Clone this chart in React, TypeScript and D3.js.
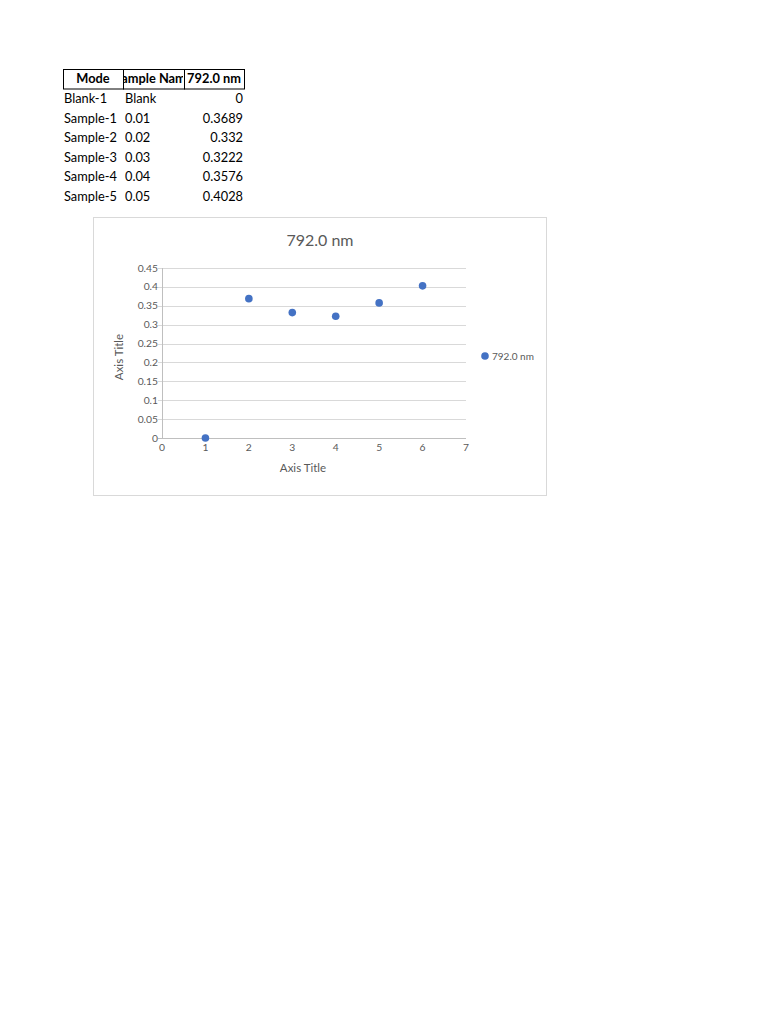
import * as d3 from "d3";

// spreadsheet table
const headers = ["Mode", "Sample Name", "792.0 nm"];
const modes = ["Blank-1", "Sample-1", "Sample-2", "Sample-3", "Sample-4", "Sample-5"];
const sampleNames = ["Blank", "0.01", "0.02", "0.03", "0.04", "0.05"];
const absorbance = [0, 0.3689, 0.332, 0.3222, 0.3576, 0.4028];
const absorbanceLabels = ["0", "0.3689", "0.332", "0.3222", "0.3576", "0.4028"];

// chart
const seriesName = "792.0 nm";
const xTicks = [0, 1, 2, 3, 4, 5, 6, 7];
const yTicks = [0, 0.05, 0.1, 0.15, 0.2, 0.25, 0.3, 0.35, 0.4, 0.45];

const FONT = "Lato, 'Open Sans', sans-serif";
const BLUE = "#4472c4";
const GRID = "#d9d9d9";
const LABEL = "#595959";

const colEdges = [63, 123, 184, 244];

export default function App() {
  const x = d3.scaleLinear().domain([0, 7]).range([162, 466]);
  const y = d3.scaleLinear().domain([0, 0.45]).range([438, 268]);
  const rowY = d3.scaleLinear().domain([0, 1]).range([103, 122.5]);
  const points = absorbance.map((v, i) => ({ x: i + 1, y: v }));

  return (
    <svg
      width={768}
      height={1024}
      style={{ position: "absolute", left: 0, top: 0, background: "#fff" }}
      fontFamily={FONT}
    >
      <defs>
        {headers.map((_, i) => (
          <clipPath id={`hc${i}`} key={i}>
            <rect x={colEdges[i] + 1} y={69} width={colEdges[i + 1] - colEdges[i] - 2} height={20} />
          </clipPath>
        ))}
      </defs>

      {/* table header */}
      {headers.map((h, i) => (
        <g key={h}>
          <rect
            x={colEdges[i] + 0.5}
            y={69.5}
            width={colEdges[i + 1] - colEdges[i]}
            height={19.5}
            fill="none"
            stroke="#000"
            strokeWidth={1}
          />
          <text
            x={(colEdges[i] + colEdges[i + 1]) / 2}
            y={83}
            textAnchor="middle"
            fontSize={12.8}
            fontWeight="bold"
            fill="#000"
            clipPath={`url(#hc${i})`}
          >
            {h}
          </text>
        </g>
      ))}

      {/* table rows */}
      {modes.map((m, i) => (
        <g key={m} fontSize={12.8} fill="#000">
          <text x={64} y={rowY(i)}>{m}</text>
          <text x={125} y={rowY(i)}>{sampleNames[i]}</text>
          <text x={243} y={rowY(i)} textAnchor="end">{absorbanceLabels[i]}</text>
        </g>
      ))}

      {/* chart area */}
      <rect x={93.5} y={217.5} width={453} height={278} fill="#fff" stroke={GRID} />
      <text x={320} y={246} textAnchor="middle" fontSize={16} fill={LABEL}>
        {seriesName}
      </text>

      {/* gridlines */}
      {yTicks.map((t) => (
        <g key={t}>
          <line
            x1={x(0) - 4}
            x2={x(7)}
            y1={Math.round(y(t)) + 0.5}
            y2={Math.round(y(t)) + 0.5}
            stroke={t === 0 ? "#bfbfbf" : GRID}
          />
          <text x={158} y={y(t) + 3.5} textAnchor="end" fontSize={10.3} fill={LABEL}>
            {t}
          </text>
        </g>
      ))}
      <line x1={x(0) + 0.5} x2={x(0) + 0.5} y1={y(0.45)} y2={y(0)} stroke="#bfbfbf" />
      {xTicks.map((t) => (
        <g key={t}>
          <text x={x(t)} y={451} textAnchor="middle" fontSize={10.3} fill={LABEL}>
            {t}
          </text>
        </g>
      ))}

      {/* axis titles */}
      <text x={303} y={472} textAnchor="middle" fontSize={11.5} fill={LABEL}>
        Axis Title
      </text>
      <text
        transform={`translate(123,357) rotate(-90)`}
        textAnchor="middle"
        fontSize={11.5}
        fill={LABEL}
      >
        Axis Title
      </text>

      {/* points */}
      {points.map((p, i) => (
        <circle key={i} cx={x(p.x)} cy={y(p.y)} r={3.8} fill={BLUE} />
      ))}

      {/* legend */}
      <circle cx={485} cy={356} r={3.8} fill={BLUE} />
      <text x={492} y={359.5} fontSize={10} fill={LABEL}>
        {seriesName}
      </text>
    </svg>
  );
}
